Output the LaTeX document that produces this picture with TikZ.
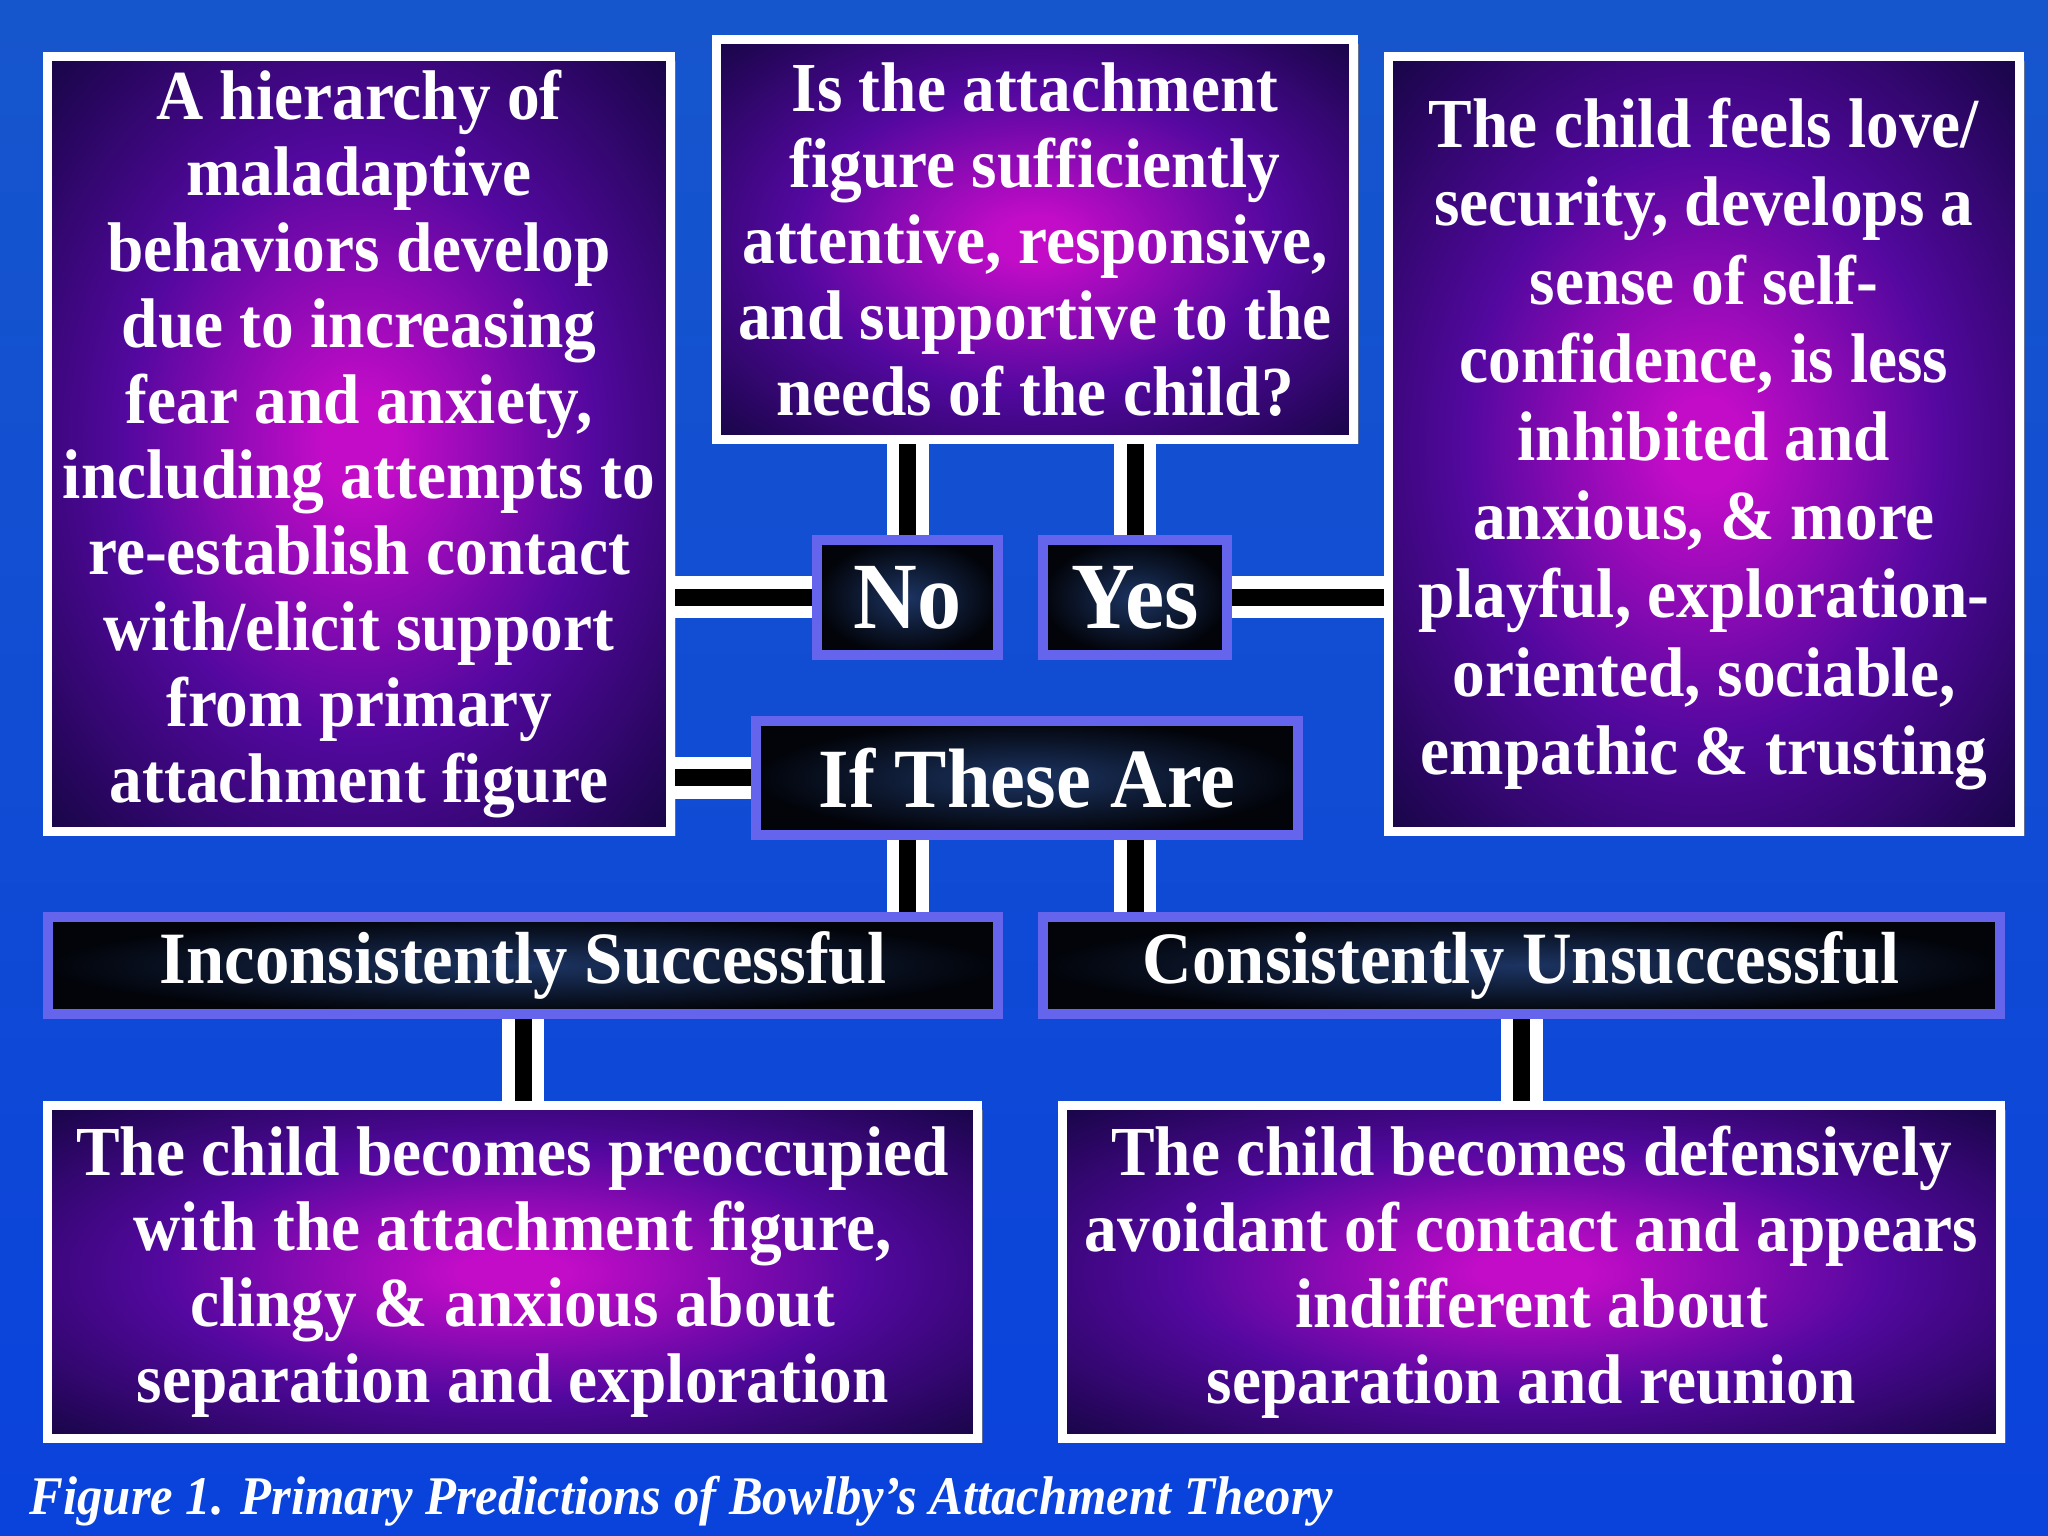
\documentclass[tikz,border=0pt]{standalone}
\usepackage{fontspec}
\setmainfont{Liberation Serif}[FakeStretch=0.93]
\usepackage{tikz}
\usetikzlibrary{positioning}
\usetikzlibrary{shadows}
\definecolor{bgtop}{HTML}{1656CC}
\definecolor{bgmid}{HTML}{0846A4}
\definecolor{bgbot}{HTML}{0A42DC}
\definecolor{glowcore}{HTML}{C20CC8}
\definecolor{glowmid}{HTML}{52089E}
\definecolor{glowedge}{HTML}{0E0538}
\definecolor{tagedge}{HTML}{6464EC}
\definecolor{taginner}{HTML}{1C3462}
\definecolor{tagouter}{HTML}{02040A}
\pgfdeclareradialshading{glow}{\pgfpoint{0bp}{0bp}}{color(0bp)=(glowcore); color(3bp)=(glowcore); color(19bp)=(glowmid); color(38bp)=(glowedge); color(72bp)=(glowedge)}
\tikzstyle{bigbox}=[rectangle, draw=white, line width=0.9mm, shading=glow, inner sep=0pt,
    align=center, text=white, font=\bfseries\fontsize{20}{21.6}\selectfont,
    drop shadow={shadow xshift=0.5mm, shadow yshift=-0.5mm, opacity=0.7}]
\tikzstyle{tagbox}=[rectangle, draw=tagedge, line width=1mm, inner color=taginner, outer color=tagouter,
    inner sep=0pt, align=center, text=white,
    drop shadow={shadow xshift=0.5mm, shadow yshift=-0.5mm, opacity=0.7}]
\tikzstyle{link}=[draw=white, line width=1.25mm, double=black, double distance=1.7mm]

\begin{document}
\begin{tikzpicture}
    \shade [top color=bgtop, middle color=bgmid, bottom color=bgbot] (0,0) rectangle (20.48,15.36);
    \path [use as bounding box] (0,0) rectangle (20.48,15.36);
    % top row
    \node [bigbox, minimum width=6.23cm, minimum height=7.75cm] (hier) at (3.59,10.92)
        {A hierarchy of\\ maladaptive\\ behaviors develop\\ due to increasing\\ fear and anxiety,\\ including attempts to\\ re-establish contact\\ with/elicit support\\ from primary\\ attachment figure};
    \node [bigbox, minimum width=6.37cm, minimum height=4.0cm] (quest) at (10.35,12.965)
        {Is the attachment\\ figure sufficiently\\ attentive, responsive,\\ and supportive to the\\ needs of the child?};
    \node [bigbox, minimum width=6.31cm, minimum height=7.75cm, font=\bfseries\fontsize{20}{22.3}\selectfont] (secure) at (17.04,10.92)
        {The child feels love/\\ security, develops a\\ sense of self-\\ confidence, is less\\ inhibited and\\ anxious, \& more\\ playful, exploration-\\ oriented, sociable,\\ empathic \& trusting};
    % answers
    \node [tagbox, minimum width=1.81cm, minimum height=1.15cm, font=\bfseries\fontsize{27}{30}\selectfont] (no) at (9.075,9.385) {No};
    \node [tagbox, minimum width=1.84cm, minimum height=1.15cm, font=\bfseries\fontsize{27}{30}\selectfont] (yes) at (11.35,9.385) {Yes};
    \node [tagbox, minimum width=5.42cm, minimum height=1.14cm, font=\bfseries\fontsize{24}{28}\selectfont] (ifare) at (10.27,7.58) {If These Are};
    \node [tagbox, minimum width=9.5cm, minimum height=0.97cm, font=\bfseries\fontsize{21}{25}\selectfont] (incons) at (5.23,5.705) {Inconsistently Successful};
    \node [tagbox, minimum width=9.57cm, minimum height=0.97cm, font=\bfseries\fontsize{21}{25}\selectfont] (cons) at (15.215,5.705) {Consistently Unsuccessful};
    % outcomes
    \node [bigbox, minimum width=9.30cm, minimum height=3.33cm] (preocc) at (5.125,2.64)
        {The child becomes preoccupied\\ with the attachment figure,\\ clingy \& anxious about\\ separation and exploration};
    \node [bigbox, minimum width=9.38cm, minimum height=3.33cm] (avoid) at (15.315,2.64)
        {The child becomes defensively\\ avoidant of contact and appears\\ indifferent about\\ separation and reunion};
    % links
    \draw [link] (no.north) -- (no.north |- quest.south);
    \draw [link] (yes.north) -- (yes.north |- quest.south);
    \draw [link] (no.west) -- (no.west -| hier.east);
    \draw [link] (yes.east) -- (yes.east -| secure.west);
    \draw [link] (ifare.west) -- (ifare.west -| hier.east);
    \draw [link] (no.south |- ifare.south) -- (no.south |- incons.north);
    \draw [link] (yes.south |- ifare.south) -- (yes.south |- cons.north);
    \draw [link] (incons.south) -- (incons.south |- preocc.north);
    \draw [link] (cons.south) -- (cons.south |- avoid.north);
    % caption
    \node [anchor=base west, inner sep=0pt, text=white, font=\bfseries\itshape\fontsize{15.5}{18}\selectfont] (caption) at (0.29,0.21)
        {Figure 1. Primary Predictions of Bowlby’s Attachment Theory};
\end{tikzpicture}
\end{document}
